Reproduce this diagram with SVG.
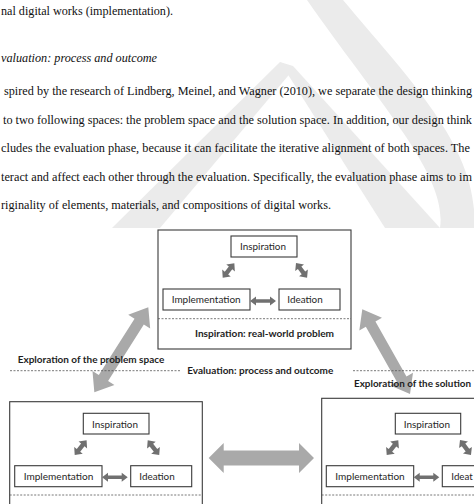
<svg xmlns="http://www.w3.org/2000/svg" width="474" height="504" viewBox="0 0 474 504">
<style>
.body{font-family:"Liberation Serif","Times New Roman",serif;font-size:12px;fill:#111}
.ital{font-style:italic}
.lbl{font-family:Lato,"Open Sans",sans-serif;font-size:10px;fill:#262626}
.bold{font-weight:bold;fill:#1e1e1e}
.outer{fill:#fff;stroke:#3a3a3a;stroke-width:1.1}
.inner{fill:#fff;stroke:#3a3a3a;stroke-width:1.1}
.dash{stroke:#555;stroke-width:0.8;stroke-dasharray:2 1.5;fill:none}
.big{fill:#a9a9a9}
.small{fill:#707070}
.wm{fill:#ebebeb}
</style>
<rect width="474" height="504" fill="#fff"/>
<g id="watermark">
<path class="wm" d="M112,228 L160,228 L293,70 L280,62 Z"/>
<path class="wm" d="M280,62 L293,66 L440,228 L385,228 Z"/>
<path class="wm" d="M307,0 L343,0 C410,80 480,150 474,228 L440,228 C448,175 380,105 307,0 Z"/>
</g>
<g id="body-text">
<text class="body" x="1" y="15" textLength="172" lengthAdjust="spacingAndGlyphs" style="font-size:13px">nal digital works (implementation).</text>
<text class="body ital" x="1" y="62" textLength="156" lengthAdjust="spacingAndGlyphs" style="font-size:13px">valuation: process and outcome</text>
<text class="body" x="4" y="95" textLength="468" lengthAdjust="spacingAndGlyphs">spired by the research of Lindberg, Meinel, and Wagner (2010), we separate the design thinking</text>
<text class="body" x="3" y="123.5" textLength="469" lengthAdjust="spacingAndGlyphs">to two following spaces: the problem space and the solution space. In addition, our design think</text>
<text class="body" x="1" y="152" textLength="469" lengthAdjust="spacingAndGlyphs">cludes the evaluation phase, because it can facilitate the iterative alignment of both spaces. The</text>
<text class="body" x="1" y="180.5" textLength="471" lengthAdjust="spacingAndGlyphs">teract and affect each other through the evaluation. Specifically, the evaluation phase aims to im</text>
<text class="body" x="1" y="209" textLength="330" lengthAdjust="spacingAndGlyphs" style="font-size:13px">riginality of elements, materials, and compositions of digital works.</text>
</g>
<g id="connectors">
<path class="big" transform="translate(148.3,307.3) rotate(122.4)" d="M0,0 L17,-13 L17,-5.5 L83.7,-5.5 L83.7,-13 L100.7,0 L83.7,13 L83.7,5.5 L17,5.5 L17,13 Z"/>
<path class="big" transform="translate(362.3,309.3) rotate(60.6)" d="M0,0 L17,-13 L17,-5.5 L80.2,-5.5 L80.2,-13 L97.2,0 L80.2,13 L80.2,5.5 L17,5.5 L17,13 Z"/>
<path class="big" transform="translate(208.7,458)" d="M0,0 L15,-15 L15,-7.5 L90.3,-7.5 L90.3,-15 L105.3,0 L90.3,15 L90.3,7.5 L15,7.5 L15,15 Z"/>
</g>
<g id="node-top">
<rect class="outer" x="158" y="230" width="193" height="119"/>
<line class="dash" x1="158" y1="318.7" x2="351" y2="318.7"/>
<g id="top-inspiration"><rect class="inner" x="231" y="236" width="66" height="21"/><text class="lbl" x="240" y="250.3" textLength="46" lengthAdjust="spacingAndGlyphs">Inspiration</text></g>
<g id="top-implementation"><rect class="inner" x="163" y="289" width="87" height="21"/><text class="lbl" x="171.7" y="303.3" textLength="69" lengthAdjust="spacingAndGlyphs">Implementation</text></g>
<g id="top-ideation"><rect class="inner" x="279" y="289" width="61" height="21"/><text class="lbl" x="287.3" y="303.3" textLength="35.4" lengthAdjust="spacingAndGlyphs">Ideation</text></g>
<path class="small" transform="translate(222.7,277.7) rotate(-51)" d="M0,0 L6,-5.5 L6,-2.2 L12.5,-2.2 L12.5,-5.5 L18.5,0 L12.5,5.5 L12.5,2.2 L6,2.2 L6,5.5 Z"/>
<path class="small" transform="translate(296,263) rotate(53)" d="M0,0 L6,-5.5 L6,-2.2 L12.4,-2.2 L12.4,-5.5 L18.4,0 L12.4,5.5 L12.4,2.2 L6,2.2 L6,5.5 Z"/>
<path class="small" transform="translate(250,301)" d="M0,0 L6,-4.5 L6,-1.8 L20,-1.8 L20,-4.5 L26,0 L20,4.5 L20,1.8 L6,1.8 L6,4.5 Z"/>
<text class="lbl bold" x="195" y="336.8" textLength="139" lengthAdjust="spacingAndGlyphs">Inspiration: real-world problem</text>
</g>
<g id="phase-labels">
<text class="lbl bold" x="17.7" y="363" textLength="146.6" lengthAdjust="spacingAndGlyphs">Exploration of the problem space</text>
<line class="dash" x1="10" y1="370.7" x2="180" y2="370.7"/>
<text class="lbl bold" x="187.3" y="374" textLength="146" lengthAdjust="spacingAndGlyphs">Evaluation: process and outcome</text>
<line class="dash" x1="353" y1="370.7" x2="474" y2="370.7"/>
<text class="lbl bold" x="354" y="386.8" textLength="117" lengthAdjust="spacingAndGlyphs" style="font-size:8.6px">Exploration of the solution</text>
</g>
<g id="node-left">
<rect class="outer" x="9.7" y="401.7" width="192.6" height="110"/>
<line class="dash" x1="9.7" y1="495" x2="202.3" y2="495"/>
<g id="left-inspiration"><rect class="inner" x="83.3" y="413.3" width="65.7" height="20.7"/><text class="lbl" x="92" y="427.5" textLength="46" lengthAdjust="spacingAndGlyphs">Inspiration</text></g>
<g id="left-implementation"><rect class="inner" x="14.7" y="465.7" width="87.3" height="21"/><text class="lbl" x="23.7" y="480.2" textLength="69.6" lengthAdjust="spacingAndGlyphs">Implementation</text></g>
<g id="left-ideation"><rect class="inner" x="130.7" y="465.7" width="61" height="21"/><text class="lbl" x="139.3" y="480.2" textLength="35.4" lengthAdjust="spacingAndGlyphs">Ideation</text></g>
<path class="small" transform="translate(74.7,455) rotate(-51)" d="M0,0 L6,-5.5 L6,-2.2 L12.9,-2.2 L12.9,-5.5 L18.9,0 L12.9,5.5 L12.9,2.2 L6,2.2 L6,5.5 Z"/>
<path class="small" transform="translate(147.7,440.3) rotate(52)" d="M0,0 L6,-5.5 L6,-2.2 L12.7,-2.2 L12.7,-5.5 L18.7,0 L12.7,5.5 L12.7,2.2 L6,2.2 L6,5.5 Z"/>
<path class="small" transform="translate(102,477.3)" d="M0,0 L6,-4.5 L6,-1.8 L19.7,-1.8 L19.7,-4.5 L25.7,0 L19.7,4.5 L19.7,1.8 L6,1.8 L6,4.5 Z"/>
</g>
<g id="node-right">
<rect class="outer" x="321.7" y="398.3" width="160" height="115"/>
<line class="dash" x1="321.7" y1="495" x2="474" y2="495"/>
<g id="right-inspiration"><rect class="inner" x="395.3" y="413.3" width="65.4" height="20.7"/><text class="lbl" x="403.7" y="427.5" textLength="46.3" lengthAdjust="spacingAndGlyphs">Inspiration</text></g>
<g id="right-implementation"><rect class="inner" x="326.3" y="465.7" width="87.4" height="21"/><text class="lbl" x="335.3" y="480.2" textLength="69.4" lengthAdjust="spacingAndGlyphs">Implementation</text></g>
<g id="right-ideation"><rect class="inner" x="442.3" y="465.7" width="40" height="21"/><text class="lbl" x="451.3" y="480.2" textLength="21.5" lengthAdjust="spacingAndGlyphs" style="font-size:9px">Ideat</text></g>
<path class="small" transform="translate(386.7,455) rotate(-51.7)" d="M0,0 L6,-5.5 L6,-2.2 L12.7,-2.2 L12.7,-5.5 L18.7,0 L12.7,5.5 L12.7,2.2 L6,2.2 L6,5.5 Z"/>
<path class="small" transform="translate(460,440) rotate(53.8)" d="M0,0 L6,-5.5 L6,-2.2 L12.6,-2.2 L12.6,-5.5 L18.6,0 L12.6,5.5 L12.6,2.2 L6,2.2 L6,5.5 Z"/>
<path class="small" transform="translate(413.7,477.3)" d="M0,0 L6,-4.5 L6,-1.8 L19.6,-1.8 L19.6,-4.5 L25.6,0 L19.6,4.5 L19.6,1.8 L6,1.8 L6,4.5 Z"/>
</g>
</svg>
